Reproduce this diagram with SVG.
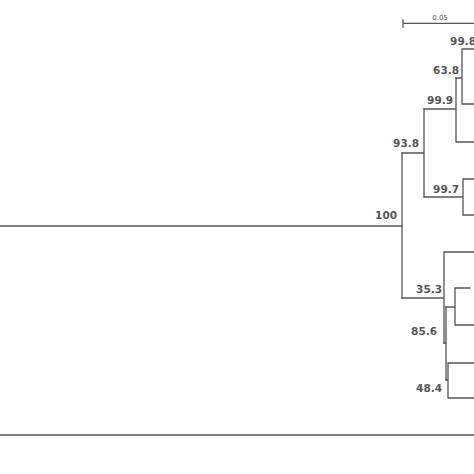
<svg xmlns="http://www.w3.org/2000/svg" width="474" height="474" viewBox="0 0 474 474">
<style>
.br{fill:none;stroke:#555;stroke-width:1.3;stroke-linecap:square}
.lb{font-family:"DejaVu Sans",sans-serif;font-weight:bold;font-size:10.5px;fill:#555;text-anchor:end}
.sc{font-family:"DejaVu Sans",sans-serif;font-size:7px;fill:#555;text-anchor:middle}
</style>
<rect width="474" height="474" fill="#fff"/>
<g id="scale-bar">
<path class="br" d="M403 23.3H476M403 20V27"/>
<text class="sc" x="440" y="20">0.05</text>
</g>
<g id="connectors">
<path class="br" d="M0 226H402"/>
<path class="br" d="M0 435H476"/>
<path class="br" d="M402 153V298"/>
<path class="br" d="M402 153H424M424 109V197"/>
<path class="br" d="M424 109H456M456 78V142M456 142H476"/>
<path class="br" d="M456 78H462M462 49V104M462 49H476M462 104H476"/>
<path class="br" d="M424 197H463M463 179V215M463 179H476M463 215H476"/>
<path class="br" d="M402 298H444M444 252V343M444 252H476"/>
<path class="br" d="M444 343H446M446 307V380"/>
<path class="br" d="M446 307H455M455 288V325M455 288H470M455 325H476"/>
<path class="br" d="M446 380H448M448 363V398M448 363H476M448 398H476"/>
</g>
<g id="node-root"><text class="lb" x="397" y="219">100</text></g>
<g id="node-93-8"><text class="lb" x="419" y="147">93.8</text></g>
<g id="node-99-9"><text class="lb" x="453" y="104">99.9</text></g>
<g id="node-63-8"><text class="lb" x="459" y="74">63.8</text></g>
<g id="node-99-8"><text class="lb" x="476" y="45">99.8</text></g>
<g id="node-99-7"><text class="lb" x="459" y="193">99.7</text></g>
<g id="node-35-3"><text class="lb" x="442" y="293">35.3</text></g>
<g id="node-85-6"><text class="lb" x="437" y="335">85.6</text></g>
<g id="node-48-4"><text class="lb" x="442" y="392">48.4</text></g>
</svg>
